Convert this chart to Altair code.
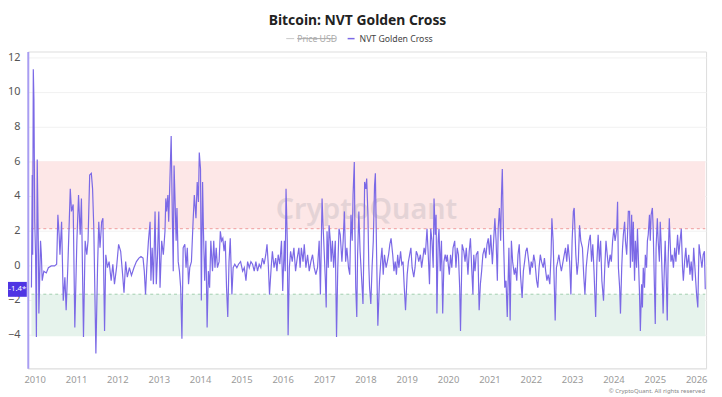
import altair as alt
import pandas as pd

# ---- data (decimal year, NVT Golden Cross value) ----
t = [2009.92, 2009.94, 2009.95, 2009.965, 2009.98, 2010.00, 2010.02, 2010.04, 2010.06, 2010.09, 2010.10, 2010.14, 2010.16, 2010.18, 2010.22, 2010.28, 2010.33, 2010.40, 2010.48, 2010.53, 2010.56, 2010.59, 2010.61, 2010.65, 2010.69, 2010.73, 2010.76, 2010.80, 2010.86, 2010.89, 2010.93, 2010.97,
     2011.02, 2011.06, 2011.10, 2011.13, 2011.18, 2011.22, 2011.26, 2011.29, 2011.33, 2011.37, 2011.40, 2011.43, 2011.48, 2011.52, 2011.55, 2011.58, 2011.62, 2011.65, 2011.69, 2011.72, 2011.76, 2011.80, 2011.85, 2011.89, 2011.93, 2011.98,
     2012.03, 2012.08, 2012.12, 2012.16, 2012.20, 2012.24, 2012.29, 2012.34, 2012.40, 2012.46, 2012.52, 2012.57, 2012.62, 2012.65, 2012.68, 2012.71, 2012.75, 2012.79, 2012.81, 2012.84, 2012.87, 2012.91, 2012.94, 2012.97,
     2013.00, 2013.03, 2013.07, 2013.11, 2013.15, 2013.17, 2013.19, 2013.22, 2013.24, 2013.27, 2013.30, 2013.32, 2013.35, 2013.37, 2013.39, 2013.42, 2013.44, 2013.47, 2013.50, 2013.53, 2013.56, 2013.59, 2013.63, 2013.66, 2013.69, 2013.72, 2013.75, 2013.79, 2013.83, 2013.86, 2013.90, 2013.93, 2013.96, 2013.98,
     2014.01, 2014.03, 2014.06, 2014.08, 2014.11, 2014.14, 2014.17, 2014.20, 2014.23, 2014.26, 2014.30, 2014.33, 2014.36, 2014.39, 2014.42, 2014.46, 2014.49, 2014.52, 2014.55, 2014.58, 2014.61, 2014.64, 2014.67, 2014.70, 2014.73, 2014.77, 2014.80, 2014.84, 2014.89, 2014.93, 2014.98,
     2015.03, 2015.07, 2015.11, 2015.15, 2015.19, 2015.23, 2015.27, 2015.31, 2015.35, 2015.39, 2015.43, 2015.47, 2015.51, 2015.55, 2015.59, 2015.62, 2015.65, 2015.68, 2015.72, 2015.75, 2015.79, 2015.83, 2015.86, 2015.89, 2015.93, 2015.97,
     2016.00, 2016.04, 2016.06, 2016.08, 2016.11, 2016.13, 2016.16, 2016.19, 2016.23, 2016.27, 2016.31, 2016.35, 2016.39, 2016.42, 2016.45, 2016.49, 2016.52, 2016.56, 2016.60, 2016.64, 2016.68, 2016.72, 2016.76, 2016.80, 2016.84, 2016.88, 2016.91, 2016.95, 2016.97, 2016.99,
     2017.03, 2017.05, 2017.07, 2017.10, 2017.12, 2017.15, 2017.17, 2017.20, 2017.23, 2017.27, 2017.30, 2017.33, 2017.36, 2017.39, 2017.43, 2017.46, 2017.49, 2017.52, 2017.55, 2017.59, 2017.62, 2017.65, 2017.68, 2017.70, 2017.73, 2017.745, 2017.765, 2017.79, 2017.81, 2017.84, 2017.87, 2017.91, 2017.94, 2017.96, 2017.98,
     2018.01, 2018.03, 2018.06, 2018.08, 2018.10, 2018.13, 2018.16, 2018.19, 2018.22, 2018.24, 2018.27, 2018.30, 2018.34, 2018.37, 2018.40, 2018.43, 2018.46, 2018.50, 2018.53, 2018.56, 2018.59, 2018.62, 2018.66, 2018.69, 2018.72, 2018.75, 2018.78, 2018.81, 2018.85, 2018.88, 2018.91, 2018.94, 2018.97,
     2019.01, 2019.04, 2019.07, 2019.10, 2019.13, 2019.17, 2019.20, 2019.23, 2019.26, 2019.29, 2019.33, 2019.36, 2019.39, 2019.42, 2019.45, 2019.49, 2019.52, 2019.55, 2019.58, 2019.61, 2019.64, 2019.66, 2019.69, 2019.71, 2019.73, 2019.76, 2019.78, 2019.81, 2019.84, 2019.87, 2019.90, 2019.93, 2019.96, 2019.98,
     2020.03, 2020.06, 2020.09, 2020.12, 2020.16, 2020.19, 2020.22, 2020.25, 2020.28, 2020.30, 2020.34, 2020.38, 2020.41, 2020.44, 2020.48, 2020.51, 2020.54, 2020.57, 2020.60, 2020.62, 2020.65, 2020.68, 2020.72, 2020.75, 2020.78, 2020.81, 2020.84, 2020.88, 2020.91, 2020.94, 2020.97,
     2021.00, 2021.03, 2021.07, 2021.10, 2021.13, 2021.16, 2021.19, 2021.21, 2021.24, 2021.27, 2021.29, 2021.31, 2021.34, 2021.37, 2021.40, 2021.43, 2021.47, 2021.50, 2021.53, 2021.56, 2021.60, 2021.63, 2021.66, 2021.69, 2021.72, 2021.75, 2021.79, 2021.82, 2021.85, 2021.88, 2021.91, 2021.95, 2021.98,
     2022.01, 2022.04, 2022.07, 2022.10, 2022.14, 2022.17, 2022.20, 2022.23, 2022.26, 2022.30, 2022.33, 2022.36, 2022.39, 2022.42, 2022.46, 2022.49, 2022.51, 2022.54, 2022.57, 2022.59, 2022.62, 2022.65, 2022.68, 2022.71, 2022.74, 2022.78, 2022.81, 2022.84, 2022.87, 2022.90, 2022.94, 2022.97,
     2023.00, 2023.03, 2023.05, 2023.09, 2023.12, 2023.15, 2023.18, 2023.21, 2023.25, 2023.28, 2023.31, 2023.34, 2023.37, 2023.41, 2023.44, 2023.47, 2023.50, 2023.53, 2023.57, 2023.60, 2023.63, 2023.66, 2023.69, 2023.72, 2023.76, 2023.79, 2023.82, 2023.85, 2023.88, 2023.92, 2023.95, 2023.98,
     2024.01, 2024.04, 2024.08, 2024.10, 2024.12, 2024.15, 2024.17, 2024.20, 2024.22, 2024.24, 2024.27, 2024.29, 2024.32, 2024.34, 2024.36, 2024.39, 2024.41, 2024.44, 2024.46, 2024.48, 2024.51, 2024.53, 2024.56, 2024.58, 2024.60, 2024.63, 2024.65, 2024.68, 2024.70, 2024.72, 2024.75, 2024.77, 2024.80, 2024.82, 2024.84, 2024.87, 2024.89, 2024.91, 2024.94, 2024.96, 2024.99,
     2025.01, 2025.03, 2025.06, 2025.08, 2025.11, 2025.13, 2025.15, 2025.18, 2025.20, 2025.23, 2025.25, 2025.27, 2025.30, 2025.32, 2025.35, 2025.37, 2025.39, 2025.42, 2025.45, 2025.48, 2025.51, 2025.55, 2025.58, 2025.61, 2025.64, 2025.67, 2025.69, 2025.72, 2025.75, 2025.78, 2025.82, 2025.85, 2025.88, 2025.91, 2025.94, 2025.98,
     2026.01, 2026.04, 2026.07, 2026.10, 2026.14, 2026.17, 2026.20, 2026.22]

v = [-1.3, 5.2, 0.6, 11.3, 9.6, 2.5, 0.6, -4.15, 6.1, 0.6, -2.8, 1.4, 0.6, -0.9, -0.35, -0.45, -0.15, -0.05, -0.05, 0.05, 2.9, 1.75, 0.6, 2.5, -2.05, -0.7, -2.6, -0.15, 4.4, 3.1, 3.5, -3.6,
     1.4, 4.05, 1.75, 3.85, -4.15, 1.4, 0.6, 1.4, 5.2, 5.3, 4.4, 2.1, -5.1, -0.15, 2.5, 1.0, 2.5, 2.7, -3.8, 0.6, -0.15, 0.2, -0.9, 0.05, -1.1, -0.15,
     1.2, 0.8, -0.35, -1.6, 0.2, -0.7, -0.15, -0.6, -0.15, 0.2, 0.4, 0.5, 0.4, -0.35, -1.7, -0.15, 1.4, 2.5, -0.9, 1.0, -1.1, 3.1, -1.1, 0.6,
     3.1, -1.3, 1.4, 0.6, 1.95, 3.85, 3.1, 4.05, 2.5, 5.0, 7.45, 4.05, -0.35, 5.75, 4.05, 1.4, 3.3, 0.2, -0.35, -1.3, -4.25, 1.0, 1.2, -0.15, 1.0, -1.1, -0.15, 0.2, 2.5, 4.05, 2.7, 4.8, 3.65, 6.5,
     5.55, -2.05, 4.8, 2.1, -0.9, 1.4, -3.6, -0.35, -1.3, 1.4, -0.35, 1.4, -0.15, 1.0, -0.15, 0.2, 1.95, 1.4, 1.55, 0.8, 1.4, -1.3, -3.0, 0.2, 1.55, -1.7, -0.15, 0.05, -0.15, 0.05, 0.2,
     -0.35, -0.15, -0.9, 0.2, -0.15, 0.2, 0.05, -0.35, 0.2, -0.35, 0.05, -0.15, 0.4, 0.05, 0.6, 1.2, 0.05, -1.7, -0.15, 0.8, -0.15, 0.4, -0.35, 0.6, 0.05, 1.4,
     -1.5, 1.4, -0.35, 4.4, 1.4, -4.05, -0.15, 0.8, 0.2, 1.0, -0.35, 0.4, 1.0, -0.15, 1.0, 0.2, 1.2, -0.15, 0.6, -0.35, 0.2, 0.6, -0.15, -0.55, -0.15, 1.4, -1.7, 3.85, 2.5, 1.4,
     -0.9, -2.45, 1.95, -0.15, 2.3, 1.4, 0.2, 1.4, -0.15, 1.4, -4.15, -0.15, 2.1, 1.75, 0.2, 1.4, 3.1, 0.2, 1.0, -0.15, -0.55, 2.9, 1.4, 4.05, 5.95, 2.0, -1.3, -3.0, 0.6, 3.1, 0.8, -0.9, -2.25, 0.6, 4.8,
     4.4, 5.0, 2.9, 0.05, -1.3, -2.25, -0.15, 1.4, 4.6, 5.3, 0.6, -3.5, -0.9, 0.2, 1.0, -0.55, 0.6, -0.15, 0.2, 0.6, 1.2, 1.55, 0.6, -0.35, 0.2, -0.55, 0.6, -0.15, 0.8, 0.05, 0.2, -1.3, -2.6,
     -0.55, 0.2, 0.6, 1.0, -0.15, -0.7, -0.15, 0.8, 0.6, 0.2, 0.6, -0.15, 0.4, 1.0, 0.6, 2.1, 0.6, -1.1, 2.1, 1.4, -0.15, 3.85, 1.75, 2.9, -2.8, 1.4, 2.1, -0.35, 1.4, -2.8, 0.2, 0.6, 0.2, 0.6,
     -0.55, 0.6, -0.15, 1.0, 1.4, -0.15, 1.0, 0.6, -1.3, -3.8, 1.2, 0.8, 0.2, 1.0, -0.55, 0.8, 1.55, -0.15, -1.7, 0.6, -0.35, 0.6, 0.8, -2.6, -1.1, -0.35, 0.6, 1.0, 0.4, 1.2, 1.55,
     0.6, 1.75, 0.05, 1.4, 2.7, 1.4, -0.9, 2.1, 3.3, 1.4, 4.05, 5.55, 1.4, -1.3, -0.9, -3.0, 1.0, -3.2, 1.4, 0.2, -0.55, -0.15, -0.9, 0.6, 1.2, -0.55, -1.9, -0.35, 0.2, 0.8, 1.0, 0.2, -0.55,
     0.2, -0.15, 0.6, 0.2, -0.9, -1.3, -0.15, 0.6, 0.2, -0.15, 0.4, -0.35, -0.9, -0.55, -1.1, 0.6, 2.7, 1.4, -1.3, -3.2, -0.15, 0.2, 0.6, 0.05, -0.35, 0.2, 0.6, 1.0, 0.2, 1.2, 0.2, -1.7,
     1.4, 3.1, 3.3, 0.6, -0.55, 0.2, 2.3, 1.4, 1.0, -0.55, -1.7, -0.15, 0.6, 1.4, 1.75, 0.2, 1.2, -0.35, -3.0, 0.2, 1.75, 0.2, 1.4, -0.9, -2.05, -0.15, 1.4, 0.6, -0.15, 0.6, 0.2, 1.4,
     2.1, 1.4, 2.1, 3.65, -0.15, -1.3, -2.8, -0.15, 1.0, 1.75, 2.5, 1.4, 0.6, 1.75, 3.1, 3.1, -0.15, 2.9, 0.2, 2.5, -0.9, 1.4, -0.15, 2.1, 0.6, -1.7, -3.8, -1.1, -2.45, -0.15, -1.3, 0.6, -0.15, 1.4, 1.75, 2.9, 1.4, 2.9, 3.3, 2.1, -1.3,
     -3.4, 1.0, 2.7, 1.4, 0.2, 2.5, 1.4, -0.9, -2.8, -0.15, 1.4, -0.15, -3.2, 0.2, 2.7, 1.4, 0.2, 0.6, -0.15, 1.0, 0.2, 1.75, 0.6, 1.4, 2.1, -0.15, -0.9, 0.2, 1.0, -0.15, 0.6, -0.55, 0.2, -0.9, 1.0, -0.55,
     -1.7, -2.45, 1.2, 0.6, -0.15, 0.6, 0.8, -1.4]

# zones
band_names = ["overvalued", "undervalued"]
band_lo = [2.1, -4.1]
band_hi = [6.0, -1.68]
band_colors = ["#fde7e7", "#e6f3ec"]
line_levels = [2.1, -1.68]
line_colors = ["#ee9b9b", "#a3cfae"]
latest_value = -1.4

x_start, x_end = 2009.832, 2026.24
y_min, y_max = -5.96, 12.33
y_ticks = [-4, -2, 0, 2, 4, 6, 8, 10, 12]


def to_date(y):
    yr = int(y)
    start = pd.Timestamp(year=yr, month=1, day=1)
    end = pd.Timestamp(year=yr + 1, month=1, day=1)
    return start + (end - start) * (y - yr)


df = pd.DataFrame({"date": [to_date(a) for a in t], "value": v})
first_d, last_d = df["date"].iloc[0], df["date"].iloc[-1]
bands = pd.DataFrame({"name": band_names, "lo": band_lo, "hi": band_hi, "color": band_colors,
                      "start": [first_d] * 2, "end": [last_d] * 2})
levels = pd.DataFrame({"lvl": line_levels, "color": line_colors, "start": [first_d] * 2, "end": [last_d] * 2})

FONT = "Noto Sans"
PURPLE = "#7b69e6"

xscale = alt.Scale(domain=[to_date(x_start).isoformat(), to_date(x_end).isoformat()])
yscale = alt.Scale(domain=[y_min, y_max], nice=False, zero=False)

xaxis = alt.Axis(format="%Y", tickCount={"interval": "year", "step": 1}, grid=False, ticks=False,
                 labelColor="#9a9a9a", labelFontSize=9.5, labelFont=FONT, labelPadding=6,
                 labelOverlap=False, labelFlush=False,
                 domainColor="#e4e4e4", title=None)
yaxis = alt.Axis(values=y_ticks, tickCount=10, grid=True, gridColor="#f1f1f1", ticks=False, labelColor="#555",
                 labelFontSize=11, labelFont=FONT, labelPadding=8, labelOverlap=False, labelFlush=False,
                 domainColor="#a99df2", domainWidth=2, title=None)


def X(field):
    return alt.X(field, type="temporal", scale=xscale, axis=xaxis)


def Y(field):
    return alt.Y(field, type="quantitative", scale=yscale, axis=yaxis)


band_layer = alt.Chart(bands).mark_rect().encode(
    x=X("start"), x2="end:T", y=Y("lo"), y2="hi:Q",
    color=alt.Color("color:N", scale=None))

level_layer = alt.Chart(levels).mark_rule(strokeDash=[3, 3], strokeWidth=1).encode(
    x=X("start"), x2="end:T", y=Y("lvl"), color=alt.Color("color:N", scale=None))

watermark = alt.Chart(pd.DataFrame({"txt": ["CryptoQuant"]})).mark_text(
    font=FONT, fontSize=29, fontWeight=600, color="#b8b0b8", opacity=0.35).encode(
    x=alt.value(342), y=alt.value(160), text="txt:N")

line = alt.Chart(df).mark_line(color=PURPLE, strokeWidth=1.2).encode(
    x=X("date"), y=Y("value"))

anno = pd.DataFrame({"a": [0]})
title = alt.Chart(anno).mark_text(font=FONT, fontSize=14, fontWeight="bold", color="#222").encode(
    x=alt.value(333), y=alt.value(-31), text=alt.value("Bitcoin: NVT Golden Cross"))

leg_sym1 = alt.Chart(anno).mark_rule(color="#c8c8c8", strokeWidth=1).encode(
    x=alt.value(261), x2=alt.value(269), y=alt.value(-13))
leg_txt1 = alt.Chart(anno).mark_text(font=FONT, fontSize=8.8, color="#aaaaaa", align="left").encode(
    x=alt.value(272), y=alt.value(-13), text=alt.value("Price USD"))
leg_strike = alt.Chart(anno).mark_rule(color="#aaaaaa", strokeWidth=1).encode(
    x=alt.value(272), x2=alt.value(311), y=alt.value(-13))
leg_sym2 = alt.Chart(anno).mark_rule(color=PURPLE, strokeWidth=1.5).encode(
    x=alt.value(323), x2=alt.value(330), y=alt.value(-13))
leg_txt2 = alt.Chart(anno).mark_text(font=FONT, fontSize=8.8, color="#444", align="left").encode(
    x=alt.value(335), y=alt.value(-13), text=alt.value("NVT Golden Cross"))

box = alt.Chart(pd.DataFrame({"lo": [latest_value - 0.43], "hi": [latest_value + 0.43]})).mark_rect(
    color="#4f35e3").encode(x=alt.value(-20), x2=alt.value(-1), y=Y("lo"), y2="hi:Q")
box_txt = alt.Chart(pd.DataFrame({"val": [latest_value], "lab": ["-1.4*"]})).mark_text(
    font=FONT, fontSize=7.8, color="white").encode(x=alt.value(-10.5), y=Y("val"), text="lab:N")

copyright_ = alt.Chart(anno).mark_text(font=FONT, fontSize=6, color="#888", align="right").encode(
    x=alt.value(684), y=alt.value(343), text=alt.value("© CryptoQuant. All rights reserved"))

chart = alt.layer(band_layer, level_layer, watermark, line, title, leg_sym1, leg_txt1, leg_strike,
                  leg_sym2, leg_txt2, box, box_txt, copyright_).properties(
    width=685, height=320,
    autosize=alt.AutoSizeParams(type="none"),
    padding={"left": 20, "top": 42, "right": 8, "bottom": 26},
).configure_view(stroke=None).configure(background="white")

chart.save("out.html", embed_options={"renderer": "svg", "actions": False})
